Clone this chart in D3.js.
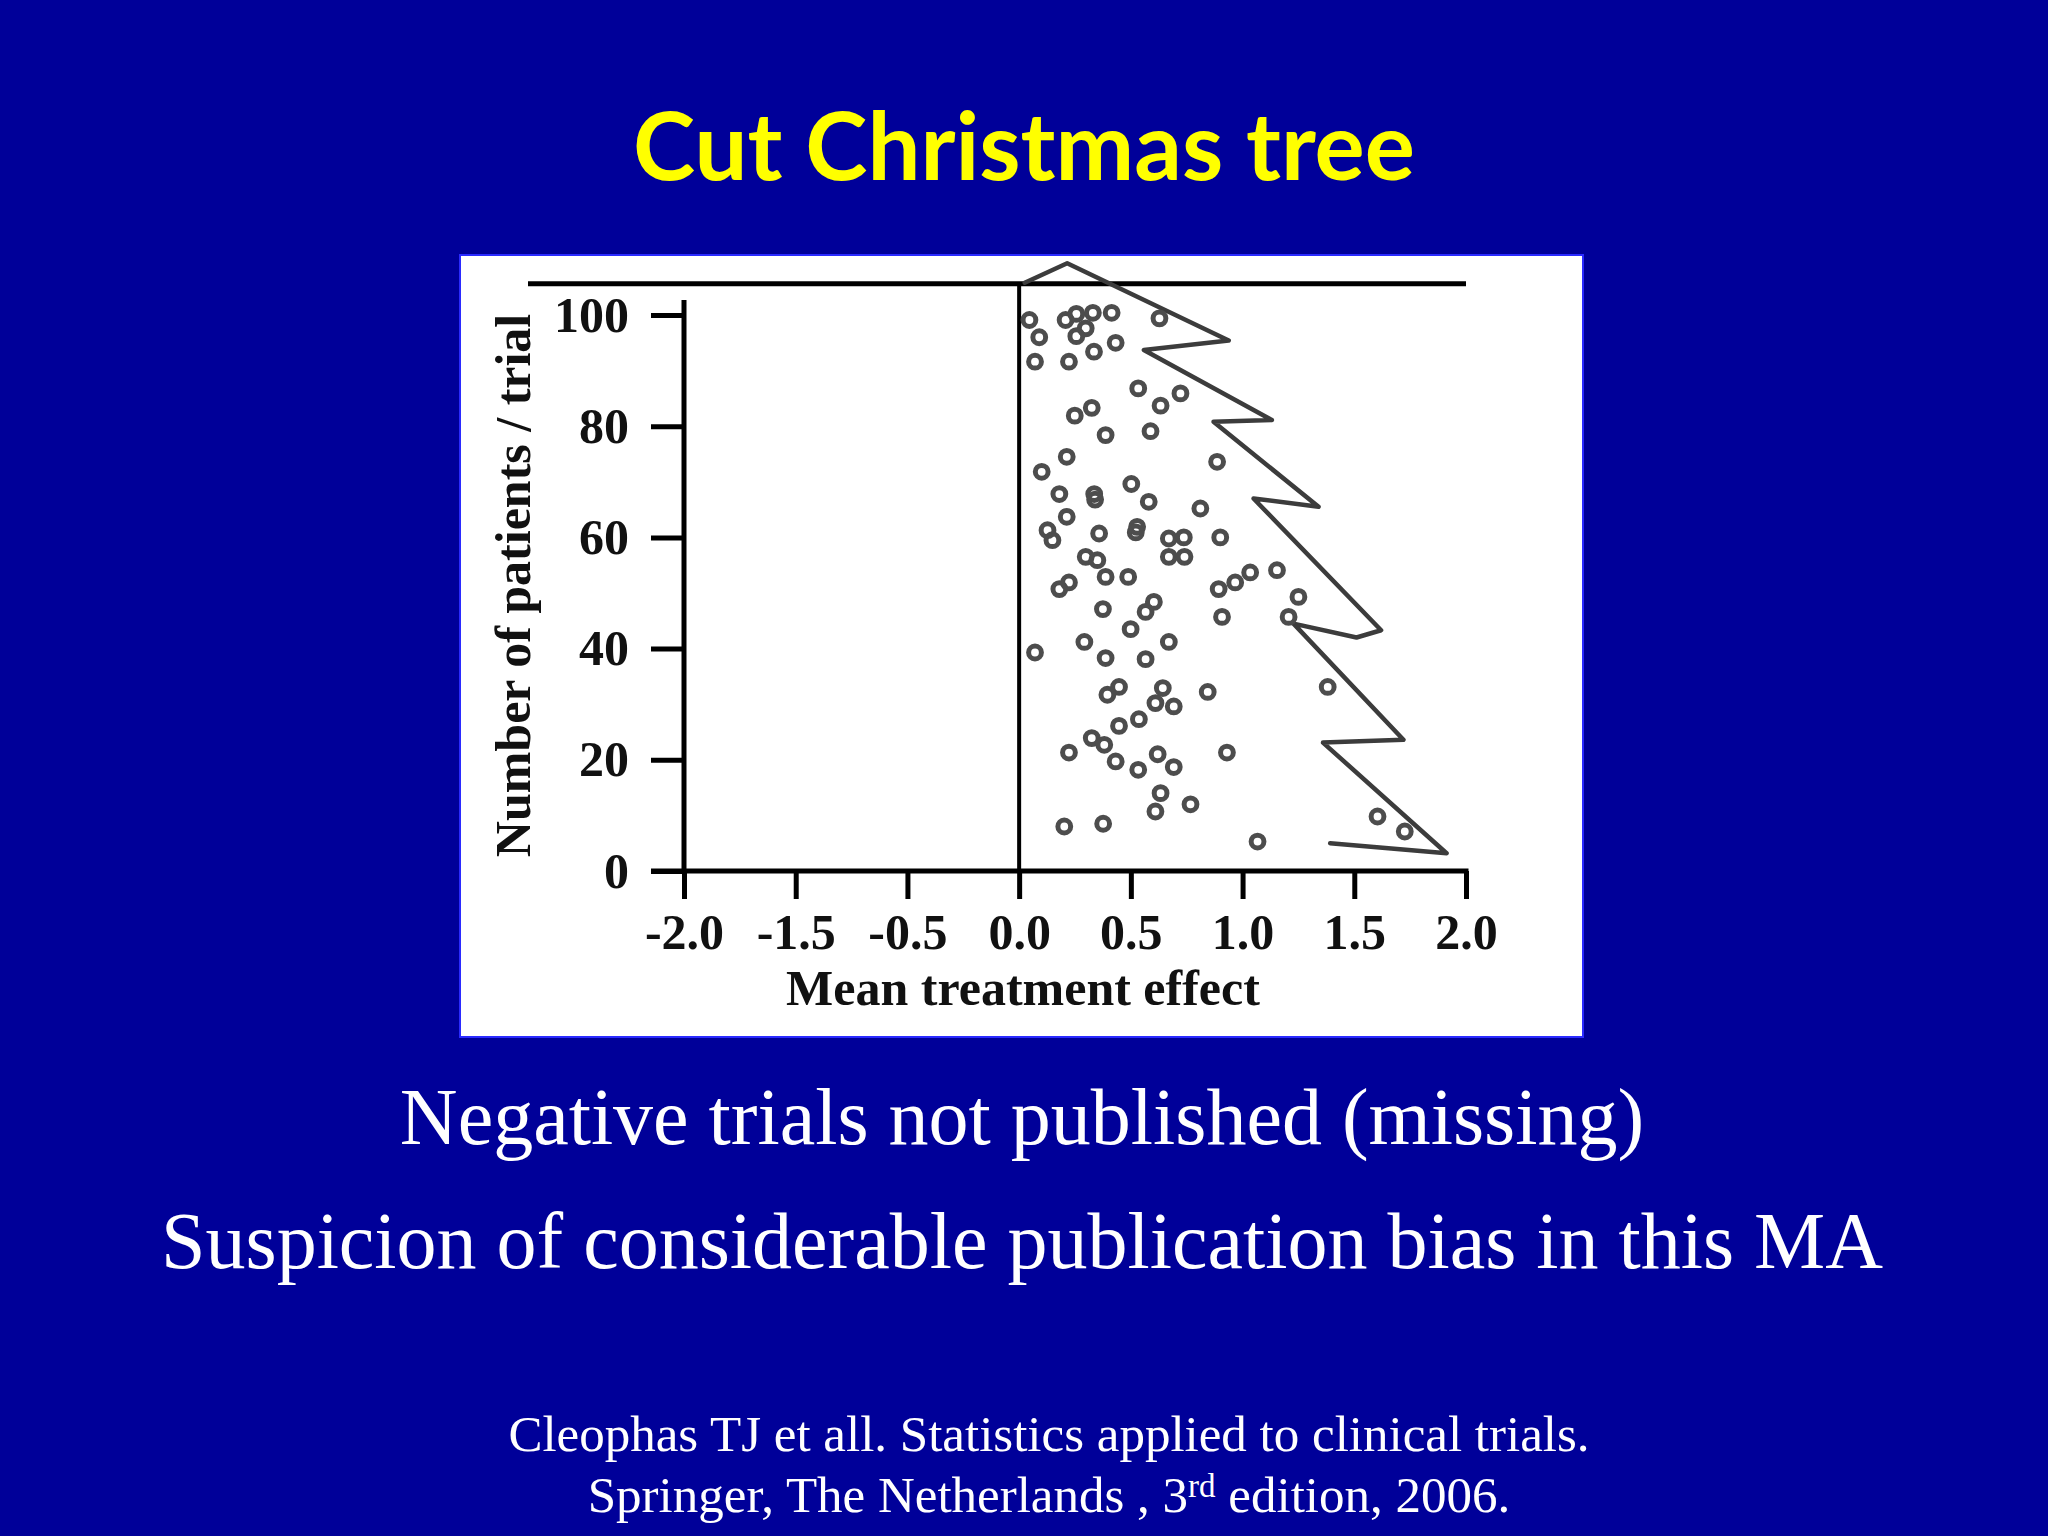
<!DOCTYPE html>
<meta charset="utf-8">
<head>
<style>
    body {
        margin: 0;
        background-color: #000099;
    }

    svg {
        display: block;
    }

    .axis text {
        font-family: "Liberation Serif", "Times New Roman", serif;
        font-weight: bold;
        font-size: 50px;
        fill: #111;
    }

    .axis line {
        stroke: #000;
        stroke-width: 5px;
    }
</style>

<!-- Load d3.js -->
<script src="https://cdn.jsdelivr.net/npm/d3@7"></script>
</head>

<body>
<svg id="slide"></svg>

<script>

// tick labels as printed (the -1.0 label is missing in the original figure)
let xTicks = [-2.0, -1.5, -0.5, 0.0, 0.5, 1.0, 1.5, 2.0]
let yTicks = [0, 20, 40, 60, 80, 100]

// one circle per trial: mean treatment effect / number of patients per trial
let trialEffect = [
    0.046, 0.09, 0.071, 0.208, 0.256, 0.33, 0.298, 0.256, 0.414, 0.223,
    0.335, 0.432, 0.628, 0.533, 0.722, 0.633, 0.325, 0.249, 0.387, 0.588,
    0.886, 0.213, 0.101, 0.18, 0.336, 0.34, 0.502, 0.58, 0.811, 0.213,
    0.127, 0.149, 0.358, 0.528, 0.522, 0.67, 0.737, 0.67, 0.74, 0.9,
    0.298, 0.35, 0.18, 0.223, 0.387, 0.488, 0.893, 0.967, 1.034, 1.154,
    1.25, 1.206, 0.908, 0.375, 0.603, 0.566, 0.499, 0.67, 0.292, 0.071,
    0.387, 0.566, 0.447, 0.395, 0.643, 0.61, 0.692, 0.844, 1.381, 0.536,
    0.447, 0.325, 0.381, 0.223, 0.432, 0.533, 0.62, 0.692, 0.93, 0.633,
    0.61, 0.767, 0.202, 0.376, 1.067, 1.604, 1.726
]
let trialPatients = [
    99.1, 96.0, 91.6, 99.1, 100.2, 100.4, 97.6, 96.2, 100.4, 91.6,
    93.4, 95.0, 99.4, 86.8, 85.9, 83.7, 83.3, 81.9, 78.4, 79.1,
    73.6, 74.5, 71.8, 67.8, 67.8, 66.8, 69.6, 66.4, 65.2, 63.7,
    61.3, 59.5, 60.7, 61.9, 60.9, 59.8, 60.0, 56.5, 56.5, 60.0,
    56.5, 55.9, 50.7, 51.9, 52.9, 52.9, 50.7, 51.9, 53.7, 54.1,
    49.3, 45.7, 45.7, 47.1, 48.4, 46.6, 43.5, 41.2, 41.2, 39.3,
    38.3, 38.1, 33.1, 31.7, 32.9, 30.2, 29.6, 32.2, 33.1, 27.3,
    26.1, 23.9, 22.7, 21.3, 19.7, 18.2, 21.0, 18.7, 21.3, 14.0,
    10.7, 12.0, 8.0, 8.5, 5.3, 9.8, 7.1
]

// the hand drawn tree outline around the trials
let treeEffect = [0.025, 0.215, 0.938, 0.558, 1.131, 0.87, 1.34, 1.049, 1.62, 1.51, 1.228, 1.72, 1.36, 1.913, 1.392]
let treePatients = [105.8, 109.3, 95.4, 93.7, 81.1, 80.8, 65.5, 67.0, 43.3, 42.0, 44.5, 23.6, 23.1, 3.2, 5.0]

// top of the plot (horizontal bar) and top of the y axis, in patients
let topBar = 105.6
let yAxisTop = 102.7

let titleText = "Cut Christmas tree"
let bulletLines = [
    "Negative trials not published (missing)",
    "Suspicion of considerable publication bias in this MA"
]
let xTitle = "Mean treatment effect"
let yTitle = "Number of patients / trial"

function getConfig() {
    let width = 2048
    let height = 1536
    let box = {left: 460, top: 255, right: 1583, bottom: 1037}
    let plot = {left: 684, right: 1466, top: 315, bottom: 871}

    let container = d3.select("#slide")
        .attr("width", width)
        .attr("height", height)

    return {width, height, box, plot, container}
}

function getScales(config) {
    let {plot} = config

    // labels are evenly spaced, so the axis is a point scale
    let xAxisScale = d3.scalePoint()
        .domain(xTicks)
        .range([plot.left, plot.right])

    // the trials all sit right of 0.0, where the axis is linear
    let xScale = d3.scaleLinear()
        .domain([0, 2])
        .range([xAxisScale(0), xAxisScale(2)])

    let yScale = d3.scaleLinear()
        .domain([0, 100])
        .range([plot.bottom, plot.top])

    return {xAxisScale, xScale, yScale}
}

function drawFrame(config) {
    let {box, container} = config

    container.append("rect")
        .attr("width", config.width)
        .attr("height", config.height)
        .attr("fill", "#000099")

    container.append("rect")
        .attr("x", box.left)
        .attr("y", box.top)
        .attr("width", box.right - box.left)
        .attr("height", box.bottom - box.top)
        .attr("fill", "#fff")
        .attr("stroke", "#2a2aff")
        .attr("stroke-width", 2)
}

function drawAxes(scales, config) {
    let {xAxisScale, xScale, yScale} = scales
    let {container, plot} = config

    let axisY = d3.axisLeft(yScale)
        .tickValues(yTicks)
        .tickSize(33)
        .tickPadding(22)
        .tickSizeOuter(0)

    let gy = container.append("g")
        .attr("class", "axis")
        .attr("transform", `translate(${plot.left},0)`)
        .call(axisY)
    gy.select(".domain").remove()
    gy.append("line")
        .attr("y1", yScale(yAxisTop))
        .attr("y2", yScale(0) + 2.5)

    let axisX = d3.axisBottom(xAxisScale)
        .tickSize(28)
        .tickPadding(14)
        .tickFormat(d => d.toFixed(1))

    let gx = container.append("g")
        .attr("class", "axis")
        .attr("transform", `translate(0,${plot.bottom})`)
        .call(axisX)
    gx.select(".domain").remove()
    gx.append("line")
        .attr("x1", xAxisScale(-2) - 33)
        .attr("x2", xAxisScale(2) + 2.5)

    // horizontal bar at the top and the vertical line at 0.0
    container.append("line")
        .attr("x1", xAxisScale(-2) - 156)
        .attr("x2", xAxisScale(2))
        .attr("y1", yScale(topBar))
        .attr("y2", yScale(topBar))
        .attr("stroke", "#000")
        .attr("stroke-width", 5)

    container.append("line")
        .attr("x1", xScale(0))
        .attr("x2", xScale(0))
        .attr("y1", yScale(topBar))
        .attr("y2", yScale(0))
        .attr("stroke", "#000")
        .attr("stroke-width", 4)

    let serif = "'Liberation Serif', 'Times New Roman', serif"

    container.append("text")
        .attr("x", 1023)
        .attr("y", 1005)
        .attr("text-anchor", "middle")
        .attr("font-family", serif)
        .attr("font-weight", "bold")
        .attr("font-size", 50)
        .attr("fill", "#111")
        .text(xTitle)

    container.append("text")
        .attr("transform", `translate(530,${(yScale(yAxisTop) + yScale(0)) / 2}) rotate(-90)`)
        .attr("text-anchor", "middle")
        .attr("font-family", serif)
        .attr("font-weight", "bold")
        .attr("font-size", 50)
        .attr("fill", "#111")
        .text(yTitle)
}

function drawTrials(scales, config) {
    let {xScale, yScale} = scales
    let {container} = config

    let tree = d3.zip(treeEffect, treePatients)
    let line = d3.line()
        .x(d => xScale(d[0]))
        .y(d => yScale(d[1]))

    container.append("path")
        .datum(tree)
        .attr("d", line)
        .attr("fill", "none")
        .attr("stroke", "#3c3c3c")
        .attr("stroke-width", 4.5)
        .attr("stroke-linejoin", "round")
        .attr("stroke-linecap", "round")

    let trials = d3.zip(trialEffect, trialPatients)

    container.selectAll(".trial")
        .data(trials)
        .enter()
        .append("circle")
        .attr("class", "trial")
        .attr("cx", d => xScale(d[0]))
        .attr("cy", d => yScale(d[1]))
        .attr("r", 6.4)
        .attr("fill", "none")
        .attr("stroke", "#4d4d4d")
        .attr("stroke-width", 5)
}

function drawTexts(config) {
    let {container} = config

    let title = container.append("text")
        .attr("x", 1024)
        .attr("y", 180)
        .attr("text-anchor", "middle")
        .attr("font-family", "Lato, 'Open Sans', sans-serif")
        .attr("font-weight", "bold")
        .attr("font-size", 100)
        .attr("fill", "#ffff00")
        .text(titleText)
    // Calibri is not around: size the stand-in to the same width
    let w = title.node().getComputedTextLength()
    title.attr("font-size", 100 * 782 / w)

    let serif = "'Liberation Serif', 'Times New Roman', serif"

    container.selectAll(".bullet")
        .data(bulletLines)
        .enter()
        .append("text")
        .attr("class", "bullet")
        .attr("x", 1022)
        .attr("y", (d, i) => 1144 + i * 124)
        .attr("text-anchor", "middle")
        .attr("font-family", serif)
        .attr("font-size", 80)
        .attr("fill", "#fff")
        .text(d => d)

    container.append("text")
        .attr("x", 1049)
        .attr("y", 1451)
        .attr("text-anchor", "middle")
        .attr("font-family", serif)
        .attr("font-size", 51)
        .attr("fill", "#fff")
        .text("Cleophas TJ et all. Statistics applied to clinical trials.")

    let ref = container.append("text")
        .attr("x", 1049)
        .attr("y", 1512)
        .attr("text-anchor", "middle")
        .attr("font-family", serif)
        .attr("font-size", 51)
        .attr("fill", "#fff")
    ref.append("tspan").text("Springer, The Netherlands , 3")
    ref.append("tspan").attr("dy", -15).attr("font-size", 33).text("rd")
    ref.append("tspan").attr("dy", 15).text(" edition, 2006.")
}

function showSlide() {
    let config = getConfig()
    let scales = getScales(config)
    drawFrame(config)
    drawAxes(scales, config)
    drawTrials(scales, config)
    drawTexts(config)
}

showSlide()

</script>
</body>
